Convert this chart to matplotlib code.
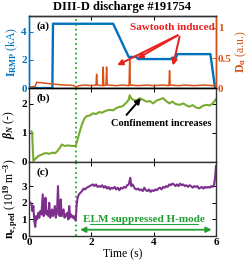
import numpy as np
import matplotlib
matplotlib.use('Agg')
import matplotlib.pyplot as plt

plt.rcParams['font.family'] = ['Liberation Serif', 'DejaVu Serif']
plt.rcParams['font.weight'] = 'bold'
plt.rcParams['mathtext.fontset'] = 'custom'
plt.rcParams['mathtext.rm'] = 'Liberation Serif:bold'
plt.rcParams['mathtext.bf'] = 'Liberation Serif:bold'
plt.rcParams['mathtext.it'] = 'Liberation Serif:italic'
plt.rcParams['mathtext.default'] = 'bf'

# I_RMP coil current (kA)
irmp_t = [0, 0.75, 0.77, 2.7, 3.2, 3.45, 3.5, 4.55, 4.6, 4.72, 4.75, 5.82, 5.97, 6.0]
irmp = [0, 0, 4.55, 4.55, 2.2, 2.2, 2.05, 2.05, 2.15, 2.15, 2.4, 2.4, 0, 0]

# D-alpha (a.u.)
da_t = [0.0, 0.1, 0.2, 0.25, 0.3, 0.4, 0.5, 0.7, 0.9, 1.1, 1.3, 1.45, 1.52, 1.6, 1.8, 2.0,
        2.15, 2.17, 2.19, 2.36, 2.38, 2.40, 2.47, 2.49, 2.51, 2.8, 3.0, 3.21, 3.23, 3.25,
        3.5, 3.8, 4.0, 4.3, 4.49, 4.51, 4.53, 4.8, 5.0, 5.3, 5.6, 5.9, 6.0]
da = [0.02, 0.02, 0.03, 0.1, 0.09, 0.09, 0.08, 0.07, 0.06, 0.05, 0.05, 0.04, 0.01, 0.04, 0.05, 0.04,
      0.05, 0.23, 0.05, 0.04, 0.35, 0.04, 0.05, 0.35, 0.05, 0.04, 0.05, 0.04, 0.48, 0.05,
      0.04, 0.05, 0.04, 0.05, 0.04, 0.29, 0.05, 0.04, 0.05, 0.04, 0.05, 0.04, 0.05]

# beta_N
beta_t = [0.08, 0.1, 0.14, 0.2, 0.3, 0.4, 0.5, 0.57, 0.65, 0.75, 0.83, 0.9, 0.94, 1.0, 1.05,
          1.15, 1.25, 1.31, 1.4, 1.5, 1.55, 1.63, 1.7, 1.78, 1.85, 1.95, 2.06, 2.15, 2.25,
          2.35, 2.45, 2.59, 2.7, 2.8, 2.91, 3.0, 3.13, 3.2, 3.23, 3.28, 3.34, 3.45, 3.55,
          3.65, 3.77, 3.88, 3.98, 4.1, 4.2, 4.3, 4.4, 4.5, 4.6, 4.7, 4.83, 4.95, 5.05, 5.15,
          5.25, 5.35, 5.47, 5.55, 5.62, 5.69, 5.8, 5.9, 6.0]
beta = [1.05, 1.02, 0.03, 0.1, 0.2, 0.25, 0.3, 0.3, 0.28, 0.32, 0.3, 0.36, 0.42, 0.5, 0.6,
        0.55, 0.57, 0.56, 0.55, 0.55, 0.75, 1.05, 1.3, 1.5, 1.58, 1.6, 1.68, 1.65, 1.72,
        1.7, 1.76, 1.8, 1.78, 1.86, 1.9, 1.92, 2.05, 2.15, 2.3, 2.2, 2.14, 2.12, 2.2,
        2.15, 2.08, 2.1, 2.02, 2.12, 2.16, 2.2, 2.1, 2.02, 2.08, 2.0, 1.97, 2.02, 1.95, 1.91,
        1.96, 1.88, 1.85, 1.92, 1.95, 1.97, 1.95, 2.02, 2.17]

# pedestal density (1e19 m^-3)
ne_t = [0.05, 0.08, 0.11, 0.14, 0.17, 0.2, 0.23, 0.26, 0.3, 0.33, 0.36, 0.4, 0.44, 0.47,
        0.5, 0.53, 0.56, 0.59, 0.62, 0.65, 0.68, 0.71, 0.74, 0.77, 0.8, 0.83, 0.86, 0.9,
        0.93, 0.96, 0.99, 1.02, 1.05, 1.08, 1.11, 1.14, 1.17, 1.2, 1.23, 1.26, 1.29, 1.32,
        1.35, 1.38, 1.41, 1.44, 1.47, 1.5, 1.53, 1.56, 1.6, 1.65, 1.7, 1.75, 1.8, 1.85, 1.9,
        1.95, 2.0, 2.05, 2.1, 2.15, 2.2, 2.25, 2.3, 2.35, 2.4, 2.45, 2.5, 2.55, 2.6, 2.65,
        2.7, 2.75, 2.8, 2.85, 2.9, 2.95, 3.0, 3.05, 3.1, 3.15, 3.2, 3.25, 3.28, 3.32, 3.4,
        3.45, 3.5, 3.55, 3.6, 3.65, 3.7, 3.75, 3.8, 3.85, 3.9, 3.95, 4.0, 4.05, 4.1, 4.15,
        4.2, 4.25, 4.3, 4.35, 4.4, 4.45, 4.5, 4.55, 4.6, 4.65, 4.7, 4.75, 4.8, 4.85, 4.9,
        4.95, 5.0, 5.05, 5.1, 5.15, 5.2, 5.25, 5.3, 5.35, 5.4, 5.45, 5.5, 5.55, 5.6, 5.65,
        5.7, 5.75, 5.8, 5.85, 5.9, 5.94, 5.97, 6.0]
ne = [2.0, 1.9, 1.5, 1.8, 0.9, 0.55, 1.2, 1.0, 1.4, 1.1, 1.5, 1.3, 2.5, 1.2,
      1.6, 2.3, 1.3, 1.5, 1.2, 2.0, 1.1, 1.3, 1.6, 1.2, 1.4, 1.8, 1.1, 1.5,
      3.0, 1.3, 1.2, 2.2, 1.2, 1.4, 1.6, 1.1, 1.3, 1.2, 1.4, 1.0, 1.8, 1.1,
      1.3, 1.2, 1.1, 1.2, 1.0, 0.95, 1.9, 2.3, 2.5, 2.6, 2.7, 2.85, 2.8, 2.9, 2.95,
      3.0, 3.05, 3.1, 3.0, 3.1, 2.95, 3.0, 2.95, 3.05, 2.9, 3.0, 2.85, 2.95, 2.8, 2.9,
      2.85, 2.95, 2.8, 2.9, 2.75, 2.9, 2.85, 2.95, 2.9, 3.05, 3.1, 3.5, 3.0, 3.1, 2.85,
      2.8, 2.85, 2.75, 2.8, 2.7, 2.9, 2.75, 2.7, 2.8, 2.65, 2.75, 2.7, 2.8, 2.75, 2.85,
      2.9, 2.8, 2.95, 2.9, 3.0, 2.95, 3.1, 3.05, 3.15, 3.1, 3.0, 3.1, 3.0, 3.15, 3.05,
      3.1, 3.0, 3.05, 2.95, 3.05, 3.0, 2.9, 3.0, 2.95, 3.0, 2.85, 2.9, 2.95, 2.85, 2.95,
      2.9, 2.95, 2.9, 3.0, 2.95, 3.1, 3.5, 4.2]

blue = '#0072BD'
orange = '#D95319'
green = '#77AC30'
purple = '#7E2F8E'
dgreen = '#22A030'
red = '#E8201C'
fs = 8
lfs = 8.5

fig = plt.figure(figsize=(2.5, 2.62), dpi=100)
L, W = 0.116, 0.748
ax1 = fig.add_axes([L, 0.664, W, 0.275])
ax2 = fig.add_axes([L, 0.382, W, 0.282], sharex=ax1)
ax3 = fig.add_axes([L, 0.099, W, 0.283], sharex=ax1)

for ax in (ax1, ax2, ax3):
    ax.tick_params(direction='in', length=3, width=0.7, labelsize=fs, top=True, right=True, pad=1.5)
    for s in ax.spines.values():
        s.set_linewidth(1.0)
        s.set_color('#333333')
    ax.axvline(1.5, color='#20B020', ls=':', lw=1.3)
    ax.set_xlim(0, 6)
    ax.set_xticks([0, 2, 4, 6])
for ax in (ax1, ax2):
    plt.setp(ax.get_xticklabels(), visible=False)

# (a)
ax1.plot(irmp_t, irmp, color=blue, lw=1.7, zorder=3)
ax1.set_ylim(0, 5.1)
ax1.set_yticks([0, 2, 4])
ax1.tick_params(axis='y', colors=blue, right=False)
ax1.spines['left'].set_color(blue)
ax1.set_ylabel(r'$\mathbf{I_{RMP}}$ (kA)', color=blue, fontsize=lfs, labelpad=1)
ax1.text(0.04, 0.92, '(a)', transform=ax1.transAxes, fontsize=fs, va='top')
ax1b = ax1.twinx()
ax1b.plot(da_t, da, color=orange, lw=1.1)
ax1b.set_ylim(0, 1.2)
ax1b.set_yticks([0, 0.5, 1])
ax1b.set_yticklabels(['0', '0.5', '1'])
ax1b.tick_params(axis='y', direction='in', length=3, width=0.7, colors=orange, labelsize=fs, pad=1.5)
ax1b.spines['right'].set_color(orange)
ax1b.spines['left'].set_color(blue)
ax1b.spines['top'].set_color('#333333')
for s in ax1b.spines.values():
    s.set_linewidth(1.0)
ax1b.set_ylabel(r'$\mathbf{D_{\alpha}}$ (a.u.)', color=orange, fontsize=lfs, labelpad=1)
ax1b.text(4.6, 1.0, 'Sawtooth induced', color=red, fontsize=fs, ha='center', va='center')
for hx, hy in [(2.75, 0.36), (3.4, 0.47), (4.6, 0.33)]:
    ax1b.annotate('', xy=(hx, hy), xytext=(4.85, 0.9),
                  arrowprops=dict(arrowstyle='-|>', color=red, lw=1.4, mutation_scale=8))

# (b)
ax2.plot(beta_t, beta, color=green, lw=1.5)
ax2.set_ylim(0, 2.55)
ax2.set_yticks([0, 1, 2])
ax2.set_ylabel(r'$\mathit{\beta_N}$ (-)', fontsize=lfs, labelpad=3)
ax2.text(0.04, 0.93, '(b)', transform=ax2.transAxes, fontsize=fs, va='top')
ax2.text(4.25, 1.32, 'Confinement increases', fontsize=fs - 0.5, ha='center', va='center')
ax2.annotate('', xy=(3.65, 2.27), xytext=(3.07, 1.55),
             arrowprops=dict(arrowstyle='-|>', color='black', lw=1.4, mutation_scale=8))

# (c)
ax3.plot(ne_t, ne, color=purple, lw=1.5, clip_on=False)
ax3.set_ylim(0, 4.45)
ax3.set_yticks([0, 1, 2, 3])
ax3.set_ylabel(r'$\mathbf{n_{e,ped}}$ (10$^{\mathbf{19}}$ m$^{\mathbf{-3}}$)', fontsize=lfs, labelpad=1)
ax3.text(0.04, 0.93, '(c)', transform=ax3.transAxes, fontsize=fs, va='top')
ax3.text(3.7, 1.0, 'ELM suppressed H-mode', color=dgreen, fontsize=fs, ha='center', va='center')
ax3.plot([1.95, 5.42], [0.75, 0.75], color=dgreen, lw=0.7)
ax3.annotate('', xy=(1.55, 0.38), xytext=(5.95, 0.38),
             arrowprops=dict(arrowstyle='<|-|>', color=dgreen, lw=1.3, mutation_scale=8))
ax3.set_xlabel('Time (s)', fontsize=lfs, labelpad=1)

fig.text(0.49, 0.975, 'DIII-D discharge #191754', ha='center', va='center', fontsize=9)

fig.savefig('out.png', dpi=100)
